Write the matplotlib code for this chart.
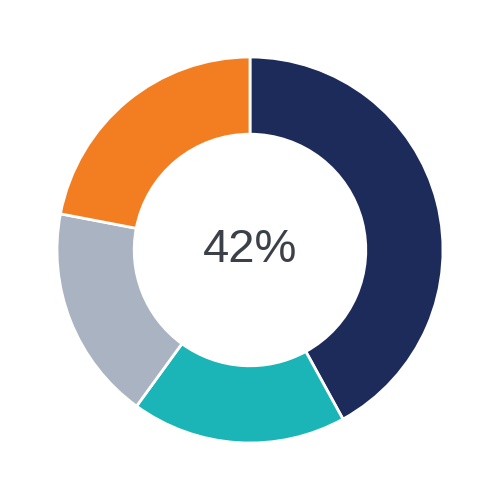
import matplotlib.pyplot as plt

labels = ["Navy", "Teal", "Gray", "Orange"]
values = [42, 18, 18, 22]
colors = ["#1c2b59", "#1bb5b7", "#a9b3c1", "#f37e21"]
center_label = "42%"

fig = plt.figure(figsize=(5, 5), dpi=100)
ax = fig.add_axes([0, 0, 1, 1])

ax.pie(values, colors=colors, startangle=90, counterclock=False,
       radius=1.0,
       wedgeprops=dict(width=0.4, edgecolor="white", linewidth=2))

ax.text(0, 0, center_label, ha="center", va="center",
        fontsize=34, color="#3b4049", family="Liberation Sans")

lim = 250 / 193
ax.set_xlim(-lim, lim)
ax.set_ylim(-lim, lim)
ax.set_aspect("equal")
ax.axis("off")

fig.savefig("out.png", dpi=100, facecolor="white")
